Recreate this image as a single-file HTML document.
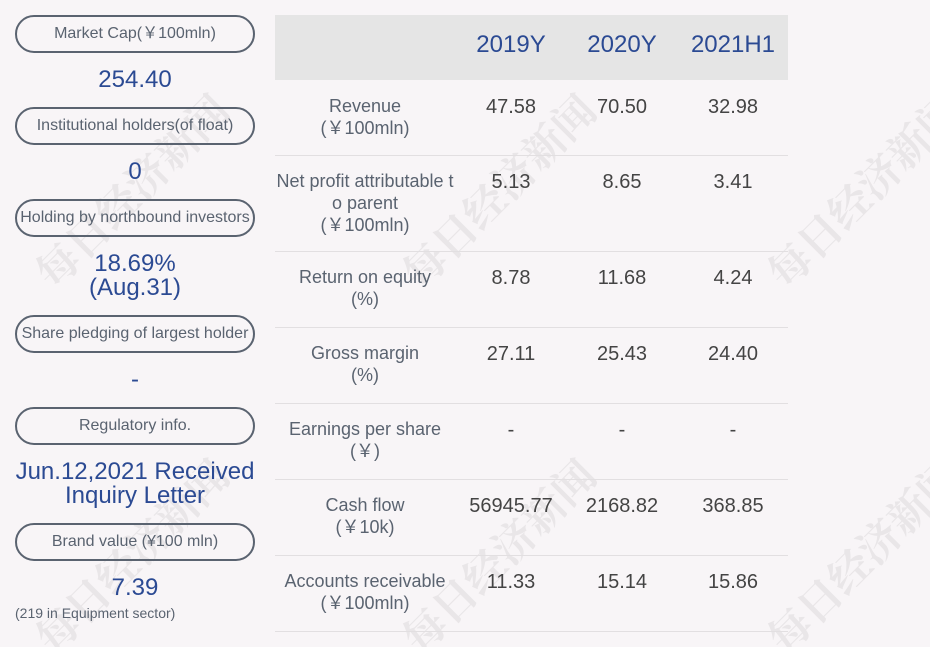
<!DOCTYPE html>
<html><head><meta charset="utf-8"><style>
html,body{margin:0;width:930px;height:647px;overflow:hidden}
body{background:#f8f5f7;font-family:"Liberation Sans","Noto Sans CJK SC",sans-serif;position:relative}
.a{position:absolute}
.pill{position:absolute;left:15px;width:236px;height:34px;border:2px solid #5a6370;border-radius:19px;color:#5a6370;font-size:16px;text-align:center;line-height:34px;white-space:nowrap}
.val{position:absolute;left:0px;width:270px;text-align:center;color:#2b4a93;font-size:24px;line-height:24px;white-space:nowrap}
.hdr{position:absolute;left:275px;top:15px;width:513px;height:65px;background:#e5e5e5}
.h{position:absolute;top:30px;width:110px;text-align:center;color:#2b4a93;font-size:24px;line-height:30px}
.lab{position:absolute;left:275px;width:180px;text-align:center;color:#5a6370;font-size:18px;line-height:22px}
.cell{position:absolute;width:110px;text-align:center;color:#444;font-size:20px;line-height:22px}
.sep{position:absolute;left:275px;width:513px;height:1px;background:#e2dfe1}
.wm{position:absolute;color:rgba(0,0,0,0.06);font-size:42px;font-weight:bold;transform:rotate(-45deg);white-space:nowrap;font-family:"Noto Serif CJK SC",serif}
</style></head><body>
<div class="wm" style="left:5px;top:160px">每日经济新闻</div>
<div class="wm" style="left:372px;top:160px">每日经济新闻</div>
<div class="wm" style="left:737px;top:160px">每日经济新闻</div>
<div class="wm" style="left:5px;top:525px">每日经济新闻</div>
<div class="wm" style="left:372px;top:525px">每日经济新闻</div>
<div class="wm" style="left:737px;top:525px">每日经济新闻</div>

<div class="pill" style="top:15px">Market Cap(￥100mln)</div>
<div class="val" style="top:68px">254.40</div>
<div class="pill" style="top:107px">Institutional holders(of float)</div>
<div class="val" style="top:160px">0</div>
<div class="pill" style="top:199px">Holding by northbound investors</div>
<div class="val" style="top:252px">18.69%<br>(Aug.31)</div>
<div class="pill" style="top:315px">Share pledging of largest holder</div>
<div class="val" style="top:368px">-</div>
<div class="pill" style="top:407px">Regulatory info.</div>
<div class="val" style="top:460px">Jun.12,2021 Received<br>Inquiry Letter</div>
<div class="pill" style="top:523px">Brand value (¥100 mln)</div>
<div class="val" style="top:576px">7.39</div>
<div class="a" style="left:15px;top:605px;font-size:14px;color:#5a6370">(219 in Equipment sector)</div>

<div class="hdr"></div>
<script>
const periods=["2019Y","2020Y","2021H1"];
const metrics=["Revenue<br>(￥100mln)","Net profit attributable t<br>o parent<br>(￥100mln)","Return on equity<br>(%)","Gross margin<br>(%)","Earnings per share<br>(￥)","Cash flow<br>(￥10k)","Accounts receivable<br>(￥100mln)"];
const v2019=["47.58","5.13","8.78","27.11","-","56945.77","11.33"];
const v2020=["70.50","8.65","11.68","25.43","-","2168.82","15.14"];
const v2021=["32.98","3.41","4.24","24.40","-","368.85","15.86"];
const cols=[v2019,v2020,v2021];
const colX=[456,567,678];
const rowTops=[80,155,251,327,403,479,555,631];
const root=document.body;
periods.forEach((p,i)=>{
  const d=document.createElement('div');d.className='h';d.style.left=colX[i]+'px';d.textContent=p;
  
  
  root.appendChild(d);
});
metrics.forEach((m,r)=>{
  const t=rowTops[r];
  const l=document.createElement('div');l.className='lab';l.style.top=(t+15)+'px';l.innerHTML=m;
  
  
  root.appendChild(l);
  cols.forEach((c,i)=>{
    const e=document.createElement('div');e.className='cell';e.style.left=colX[i]+'px';e.style.top=(t+16)+'px';e.textContent=c[r];
    
    
    root.appendChild(e);
  });
  const s=document.createElement('div');s.className='sep';s.style.top=rowTops[r+1]+'px';
  
  
  root.appendChild(s);
});
</script>
</body></html>
